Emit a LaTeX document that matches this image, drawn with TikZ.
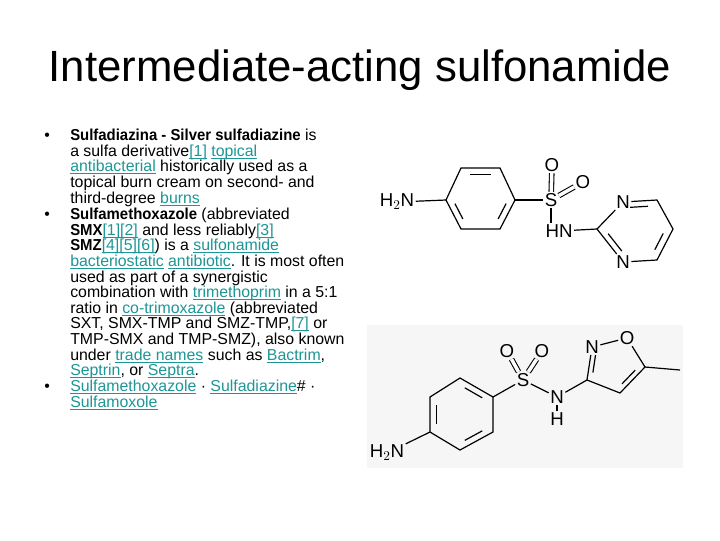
\documentclass[tikz,border=0pt]{standalone}
\usepackage{fontspec}
\usetikzlibrary{calc}
\setmainfont{Liberation Sans}
\definecolor{lnk}{RGB}{30,150,150}
\newcommand{\lk}[1]{\textcolor{lnk}{\setbox0\hbox{#1}\rlap{\rule[-1.6pt]{\wd0}{0.5pt}}\box0}}
\newcommand{\bb}[1]{\scalebox{0.94}[1]{\textbf{#1}}}
\newcommand{\inr}[3]{\draw[bd] ($(#1)!.17!(#2)!.2!(#3)$)--($(#2)!.17!(#1)!.2!(#3)$);}
\newcommand{\txtfont}{\fontsize{11.9}{11.7}\selectfont\setlength{\lineskiplimit}{-20pt}}
\begin{document}
\begin{tikzpicture}[x=0.75pt,y=-0.75pt,
  txt/.style={anchor=north west,align=left,inner sep=0pt,font=\txtfont},
  bul/.style={anchor=north west,inner sep=0pt,font=\txtfont},
  atm/.style={inner sep=1pt,font=\fontsize{14}{14}\selectfont},
  bd/.style={line width=0.9pt},
  dbo/.style={double,double distance=2.6pt,line width=0.8pt}]
\useasboundingbox (0,0) rectangle (720,540);
\fill[white] (0,0) rectangle (720,540);
\node (title) at (360,70) {\fontsize{32.8}{33}\selectfont Intermediate-acting sulfonamide};
% bullets
\node[bul] (b1) at (44,133) {•};
\node[txt] (t1) at (70,129) {\bb{Sulfadiazina - Silver sulfadiazine} is\\a sulfa derivative\lk{[1]} \lk{topical}\\\lk{antibacterial} historically used as a\\topical burn cream on second- and\\third-degree \lk{burns}};
\node[bul] (b2) at (44,212) {•};
\node[txt] (t2) at (70,208) {\bb{Sulfamethoxazole} (abbreviated\\\bb{SMX}\lk{[1][2]} and less reliably\lk{[3]}\\\bb{SMZ}\lk{[4][5][6]}) is a \lk{sulfonamide}\\\lk{bacteriostatic} \lk{antibiotic}. It is most often\\used as part of a synergistic\\combination with \lk{trimethoprim} in a 5:1\\ratio in \lk{co-trimoxazole} (abbreviated\\SXT, SMX-TMP and SMZ-TMP,\lk{[7]} or\\TMP-SMX and TMP-SMZ), also known\\under \lk{trade names} such as \lk{Bactrim},\\\lk{Septrin}, or \lk{Septra}.};
\node[bul] (b3) at (44,384) {•};
\node[txt] (t3) at (70,380) {\lk{Sulfamethoxazole} · \lk{Sulfadiazine}\# ·\\\lk{Sulfamoxole}};
% ---- molecule 1
\coordinate (a1) at (446,200); \coordinate (a2) at (461,168); \coordinate (a3) at (500,168);
\coordinate (a4) at (515,200); \coordinate (a5) at (500,229); \coordinate (a6) at (461,229);
\coordinate (ac) at (480.5,198.5);
\node[atm] (nh2a) at (397,202) {H$_2$N};
\node[atm] (sa) at (551,200) {S};
\node[atm] (oa1) at (552,165) {O};
\node[atm] (oa2) at (583,182) {O};
\node[atm] (hna) at (559,231) {HN};
\coordinate (p1) at (597,229); \node[atm] (pn1) at (623,202) {N};
\coordinate (p2) at (657,200); \coordinate (p3) at (673,229); \coordinate (p4) at (657,260);
\node[atm] (pn2) at (623,262) {N};
\coordinate (pc) at (635,230);
\draw[bd] (a1)--(a2)--(a3)--(a4)--(a5)--(a6)--cycle;
\inr{a2}{a3}{ac} \inr{a6}{a1}{ac} \inr{a4}{a5}{ac}
\draw[bd] (nh2a)--(a1); \draw[bd] (a4)--(sa);
\draw[dbo] (sa)--(oa1); \draw[dbo] (sa)--(oa2);
\draw[bd] (sa)--(hna.north -| 551,0); 
\draw[bd] (hna)--(p1);
\draw[bd] (p1)--(pn1)--(p2)--(p3)--(p4)--(pn2)--(p1);
\inr{pn1}{p2}{pc} \inr{p3}{p4}{pc} \inr{pn2}{p1}{pc}
% ---- molecule 2
\fill[gray!7] (367,325) rectangle (683,468);
\coordinate (c1) at (460,378); \coordinate (c2) at (493,397); \coordinate (c3) at (493,432);
\coordinate (c4) at (460,450); \coordinate (c5) at (430,432); \coordinate (c6) at (430,397);
\coordinate (cc) at (461.5,414);
\node[atm] (nh2b) at (387,453) {H$_2$N};
\node[atm] (sb) at (523,380) {S};
\node[atm] (ob1) at (507,351) {O};
\node[atm] (ob2) at (542,351) {O};
\node[atm] (nb) at (557,397) {N};
\node[atm] (hb) at (557,419) {H};
\coordinate (i3) at (587,380); \node[atm] (in) at (592,347) {N};
\node[atm] (io) at (627,338) {O}; \coordinate (i5) at (645,367); \coordinate (i4) at (620,393);
\coordinate (ic) at (613,365); \coordinate (me) at (680,370);
\draw[bd] (c1)--(c2)--(c3)--(c4)--(c5)--(c6)--cycle;
\inr{c1}{c2}{cc} \inr{c3}{c4}{cc} \inr{c5}{c6}{cc}
\draw[bd] (nh2b)--(c5); \draw[bd] (c2)--(sb);
\draw[dbo] (sb)--(ob1); \draw[dbo] (sb)--(ob2);
\draw[bd] (sb)--(nb); \draw[bd] (nb)--(hb); \draw[bd] (nb)--(i3);
\draw[bd] (i3)--(in); \draw[bd] (in)--(io); \draw[bd] (io)--(i5)--(i4)--(i3);
\inr{i3}{in}{ic} \inr{i5}{i4}{ic}
\draw[bd] (i5)--(me);
\end{tikzpicture}
\end{document}
